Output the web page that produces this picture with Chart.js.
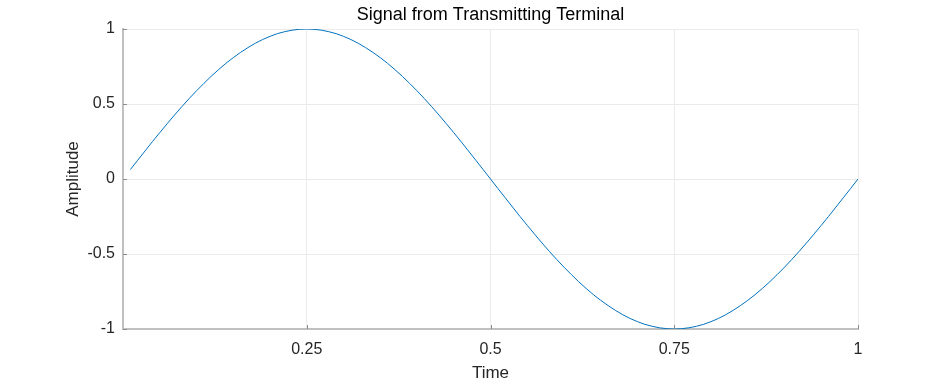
<!DOCTYPE html>
<html>
<head>
<meta charset="utf-8">
<script src="https://cdn.jsdelivr.net/npm/chart.js@4.4.1/dist/chart.umd.min.js"></script>
<style>
  html, body { margin: 0; padding: 0; background: #fff; }
  #wrap { width: 948px; height: 385px; }
</style>
</head>
<body>
<div id="wrap"><canvas id="signalChart" width="948" height="385"></canvas></div>
<script>
// datos (muestras cada 0.01 s)
const time = [
  0.01,0.02,0.03,0.04,0.05,0.06,0.07,0.08,0.09,0.10,
  0.11,0.12,0.13,0.14,0.15,0.16,0.17,0.18,0.19,0.20,
  0.21,0.22,0.23,0.24,0.25,0.26,0.27,0.28,0.29,0.30,
  0.31,0.32,0.33,0.34,0.35,0.36,0.37,0.38,0.39,0.40,
  0.41,0.42,0.43,0.44,0.45,0.46,0.47,0.48,0.49,0.50,
  0.51,0.52,0.53,0.54,0.55,0.56,0.57,0.58,0.59,0.60,
  0.61,0.62,0.63,0.64,0.65,0.66,0.67,0.68,0.69,0.70,
  0.71,0.72,0.73,0.74,0.75,0.76,0.77,0.78,0.79,0.80,
  0.81,0.82,0.83,0.84,0.85,0.86,0.87,0.88,0.89,0.90,
  0.91,0.92,0.93,0.94,0.95,0.96,0.97,0.98,0.99,1.00
];
const amplitude = [
  0.063,0.125,0.187,0.249,0.309,0.368,0.426,0.482,0.536,0.588,
  0.637,0.685,0.729,0.771,0.809,0.844,0.876,0.905,0.930,0.951,
  0.969,0.982,0.992,0.998,1.000,0.998,0.992,0.982,0.969,0.951,
  0.930,0.905,0.876,0.844,0.809,0.771,0.729,0.685,0.637,0.588,
  0.536,0.482,0.426,0.368,0.309,0.249,0.187,0.125,0.063,0.000,
  -0.063,-0.125,-0.187,-0.249,-0.309,-0.368,-0.426,-0.482,-0.536,-0.588,
  -0.637,-0.685,-0.729,-0.771,-0.809,-0.844,-0.876,-0.905,-0.930,-0.951,
  -0.969,-0.982,-0.992,-0.998,-1.000,-0.998,-0.992,-0.982,-0.969,-0.951,
  -0.930,-0.905,-0.876,-0.844,-0.809,-0.771,-0.729,-0.685,-0.637,-0.588,
  -0.536,-0.482,-0.426,-0.368,-0.309,-0.249,-0.187,-0.125,-0.063,0.000
];
const xTicks = [0.25, 0.5, 0.75, 1];
const yTicks = [-1, -0.5, 0, 0.5, 1];

const FONT = 'Arial, "Liberation Sans", Helvetica, sans-serif';
const TXT = '#262626';
const AXIS = '#c0c0c0';
const GRID = '#ebebeb';

// marcas de ticks hacia dentro (estilo matlab)
const innerTicks = {
  id: 'innerTicks',
  afterDatasetsDraw(chart) {
    const c = chart.ctx, a = chart.chartArea;
    const xs = chart.scales.x, ys = chart.scales.y;
    c.save();
    c.strokeStyle = '#8c8c8c';
    c.lineWidth = 1;
    c.beginPath();
    xTicks.forEach(v => {
      const px = Math.round(xs.getPixelForValue(v)) + 0.5;
      c.moveTo(px, a.bottom); c.lineTo(px, a.bottom - 4);
    });
    yTicks.forEach(v => {
      const py = Math.round(ys.getPixelForValue(v)) + 0.5;
      c.moveTo(a.left, py); c.lineTo(a.left + 4, py);
    });
    c.stroke();
    c.restore();
  }
};

new Chart(document.getElementById('signalChart'), {
  type: 'line',
  data: {
    labels: time,
    datasets: [{
      data: time.map((t, i) => ({ x: t, y: amplitude[i] })),
      borderColor: '#0072bd',
      borderWidth: 1,
      pointRadius: 0,
      tension: 0,
      fill: false
    }]
  },
  options: {
    responsive: false,
    animation: false,
    layout: { padding: { left: 0, right: 90, top: 0, bottom: 0 } },
    plugins: {
      legend: { display: false },
      tooltip: { enabled: false },
      title: {
        display: true,
        fullSize: false,
        text: 'Signal from Transmitting Terminal',
        color: '#000',
        font: { family: FONT, size: 18, weight: 'normal' },
        padding: { top: 4, bottom: 3.4 }
      }
    },
    scales: {
      x: {
        type: 'linear',
        min: 0,
        max: 1,
        afterBuildTicks: s => { s.ticks = xTicks.map(v => ({ value: v })); },
        afterFit: s => { s.height = 56; },
        grid: { color: GRID, drawTicks: false },
        border: { color: AXIS, width: 2 },
        ticks: {
          color: TXT, padding: 11, maxRotation: 0,
          font: { family: FONT, size: 16 },
          callback: v => String(v)
        },
        title: {
          display: true, text: 'Time', color: TXT,
          font: { family: FONT, size: 17 }, padding: { top: 4, bottom: 1.5 }
        }
      },
      y: {
        min: -1,
        max: 1,
        afterBuildTicks: s => { s.ticks = yTicks.map(v => ({ value: v })); },
        afterFit: s => { s.width = 123; },
        grid: { color: GRID, drawTicks: false },
        border: { color: AXIS, width: 2 },
        ticks: {
          color: TXT, padding: 8,
          font: { family: FONT, size: 16 },
          callback: v => String(v)
        },
        title: {
          display: true, text: 'Amplitude', color: TXT,
          font: { family: FONT, size: 17 }, padding: { top: 63, bottom: 0 }
        }
      }
    }
  },
  plugins: [innerTicks]
});
</script>
</body>
</html>
